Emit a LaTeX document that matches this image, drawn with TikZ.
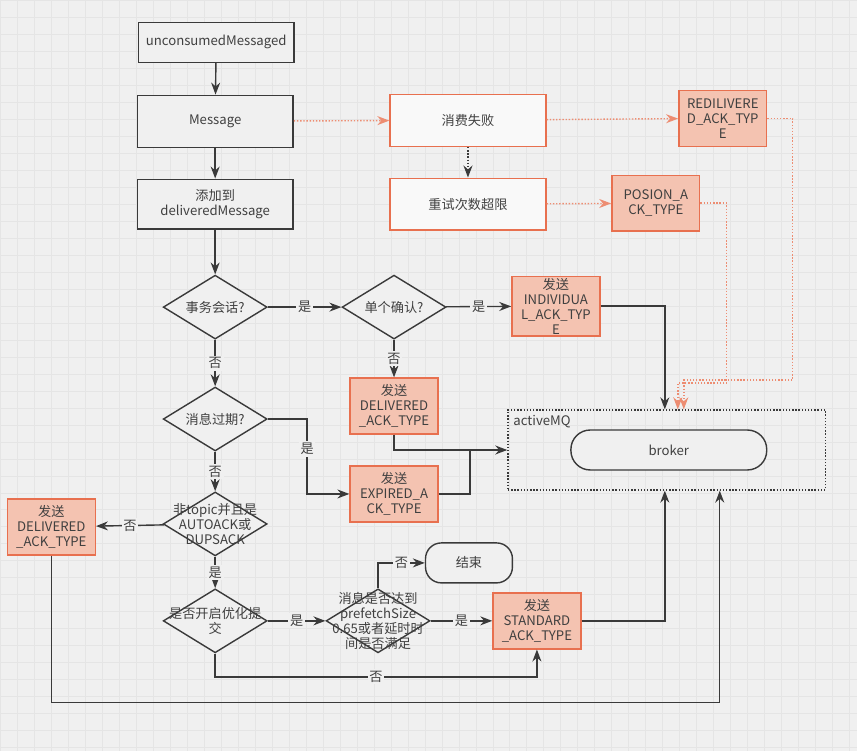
\documentclass[tikz,border=0pt]{standalone}
\usepackage{fontspec}
\setmainfont{Noto Sans CJK SC}
\usetikzlibrary{positioning, arrows.meta, shapes.geometric}
\definecolor{lineorange}{HTML}{E8704F}
\definecolor{fillorange}{HTML}{F4C3B1}
\definecolor{bggray}{HTML}{F0F0F0}
\definecolor{darkline}{HTML}{3A3A3A}

\begin{document}
\begin{tikzpicture}[
        x=0.02cm, y=-0.02cm,
        font=\fontsize{7.5}{8.5}\selectfont,
        % --- stiluri ---
        box/.style={
                draw=darkline,
                thick,
                fill=bggray,
                align=center,
                minimum width=3.12cm,
                minimum height=1.04cm,
                text=black!75
            },
        fail/.style={
                box,
                draw=lineorange,
                fill=white!95!gray
            },
        ack/.style={
                draw=lineorange,
                thick,
                fill=fillorange,
                align=center,
                text width=1.6cm,
                minimum width=1.76cm,
                minimum height=1.12cm,
                inner sep=1pt,
                text=black!75
            },
        decision/.style={
                diamond,
                draw=darkline,
                thick,
                fill=bggray,
                aspect=1.62,
                minimum width=2.08cm,
                minimum height=1.28cm,
                inner sep=0pt
            },
        dtext/.style={
                align=center,
                text width=1.85cm,
                inner sep=0pt,
                text=black!75
            },
        term/.style={
                draw=darkline,
                thick,
                fill=bggray,
                rounded corners=9pt,
                align=center,
                text=black!75
            },
        flow/.style={-{Stealth[length=2.4mm]}, thick, darkline},
        dflow/.style={-{Stealth[length=2.4mm]}, thick, lineorange!80, densely dotted},
        lbl/.style={fill=bggray, inner sep=1pt, text=black!75}
    ]

    % fundal
    \fill[bggray] (0,0) rectangle (857,751);
    \draw[black!10, step=0.34cm] (0,0) grid (857,751);

    % 1. coloana principala
    \node[box, minimum height=0.8cm] (uncons) at (216,42) {unconsumedMessaged};
    \node[box] (msg) at (215,121) {Message};
    \node[box, minimum height=1cm] (added) at (215,204) {添加到\\deliveredMessage};

    % 2. esec consum
    \node[fail] (failed) at (468,120) {消费失败};
    \node[fail] (retry) at (468,204) {重试次数超限};
    \node[ack] (redeliv) at (723,118) {REDILIVERE D\_ACK\_TYP E};
    \node[ack] (posion) at (656,203) {POSION\_A CK\_TYPE};

    % 3. decizii
    \node[decision] (tx) at (215,307) {};
    \node[dtext] at (tx) {事务会话?};
    \node[decision] (single) at (394,307) {};
    \node[dtext] at (single) {单个确认?};
    \node[ack] (indiv) at (556,306) {发送\\INDIVIDUA L\_ACK\_TYP E};
    \node[ack] (delivmid) at (394,406) {发送\\DELIVERED \_ACK\_TYPE};
    \node[decision] (expired) at (215,419) {};
    \node[dtext] at (expired) {消息过期?};
    \node[ack] (expack) at (394,494) {发送\\EXPIRED\_A CK\_TYPE};
    \node[decision] (topic) at (215,524) {};
    \node[dtext] at (topic) {非topic并且是\\AUTOACK或\\DUPSACK};
    \node[ack] (delivleft) at (51,527) {发送\\DELIVERED \_ACK\_TYPE};
    \node[decision] (optim) at (215,621) {};
    \node[dtext] at (optim) {是否开启优化提\\交};
    \node[decision] (reach) at (378,621) {};
    \node[dtext] at (reach) {消息是否达到\\prefetchSize\\0.65或者延时时\\间是否满足};
    \node[term, minimum width=1.74cm, minimum height=0.8cm] (end) at (469,563) {结束};
    \node[ack] (standard) at (537,621) {发送\\STANDARD \_ACK\_TYPE};

    % 4. activeMQ
    \node[draw=darkline, thick, densely dotted, minimum width=6.36cm, minimum height=1.6cm] (amq) at (667,450) {};
    \node[anchor=north west, text=black!75] at (amq.north west) {activeMQ};
    \node[term, minimum width=3.92cm, minimum height=0.8cm, rounded corners=11pt] (broker) at (669,450) {broker};

    % 5. conexiuni
    \draw[flow] (uncons) -- (msg);
    \draw[flow] (msg) -- (added);
    \draw[flow] (added) -- (tx);
    \draw[dflow] (msg) -- (failed);
    \draw[dflow] (failed) -- (redeliv);
    \draw[-{Stealth[length=2.4mm]}, thick, darkline, densely dotted] (failed) -- (retry);
    \draw[dflow] (retry) -- (posion);
    \draw[dflow] (redeliv.east) -| (793,380) -| (amq.north -| 684,0);
    \draw[dflow] (posion.east) -| (727,383) -| (amq.north -| 678,0);

    \draw[flow] (tx) -- node[lbl] {是} (single);
    \draw[flow] (single) -- node[lbl] {是} (indiv);
    \draw[flow] (single) -- node[lbl] {否} (delivmid);
    \draw[flow] (tx) -- node[lbl] {否} (expired);
    \draw[flow] (expired.east) -| node[lbl, pos=0.7] {是} (307,494) -- (expack);
    \draw[flow] (expired) -- node[lbl] {否} (topic);
    \draw[flow] (topic) -- node[lbl] {否} (delivleft);
    \draw[flow] (topic) -- node[lbl] {是} (optim);
    \draw[flow] (optim) -- node[lbl] {是} (reach);
    \draw[flow] (reach) -- node[lbl] {是} (standard);
    \draw[flow] (reach.north) |- node[lbl, pos=0.75] {否} (end);
    \draw[flow] (optim.south) |- node[lbl, pos=0.75] {否} (537,677) -- (standard.south);

    \draw[flow] (indiv.east) -| (amq.north -| 665,0);
    \draw[flow] (delivmid.south) |- (amq.west |- 0,450);
    \draw[thick, darkline] (expack.east) -| (470,450);
    \draw[flow] (standard.east) -| (amq.south -| 665,0);
    \draw[flow] (delivleft.south) |- (720,703) -- (amq.south -| 720,0);

\end{tikzpicture}
\end{document}
